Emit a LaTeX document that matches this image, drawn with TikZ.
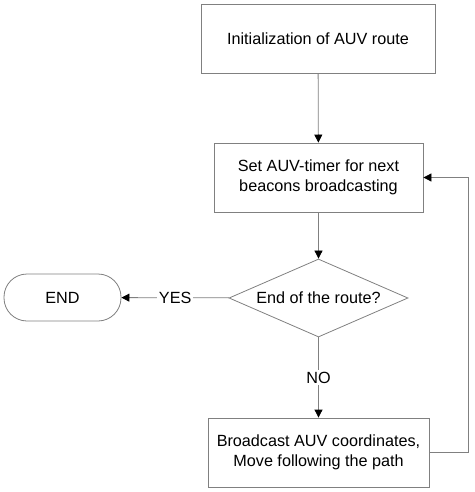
\documentclass[tikz,border=0pt]{standalone}
\usepackage{fontspec}
\setmainfont{Liberation Sans}
\usetikzlibrary{arrows.meta,shapes.geometric}

\begin{document}
\begin{tikzpicture}[x=1pt, y=-1pt,
    every node/.style={font=\fontsize{16.2}{20}\selectfont, text=black},
    block/.style={draw=gray, line width=0.8pt, rectangle, align=center, minimum height=69pt},
    decision/.style={draw=gray, line width=0.8pt, diamond, aspect=2.3, inner sep=0pt,
        minimum width=179pt, minimum height=78pt},
    terminal/.style={draw=gray, line width=0.8pt, rectangle, rounded corners=23pt,
        minimum width=117pt, minimum height=47pt},
    flow/.style={draw=gray, line width=0.8pt, -{Triangle[width=8pt,length=8pt,color=black]}},
    answer/.style={fill=white, inner sep=1.5pt}]
    \useasboundingbox (0,0) rectangle (474,492);

    \node[block, minimum width=234pt] (init) at (318,38.5) {Initialization of AUV route};
    \node[block, minimum width=209pt] (timer) at (318.5,177.5) {Set AUV-timer for next\\beacons broadcasting};
    \node[decision] (route) at (318.5,298) {End of the route?};
    \node[terminal] (end) at (62.5,297.5) {END};
    \node[block, minimum width=221pt] (bcast) at (318.5,452.5) {Broadcast AUV coordinates,\\Move following the path};

    \draw[flow] (init) -- (timer);
    \draw[flow] (timer) -- (route);
    \draw[flow] (route) -- node[answer] {YES} (end);
    \draw[flow] (route) -- node[answer] {NO} (bcast);
    \draw[flow] (bcast.east) -- ++(39,0) |- (timer.east);
\end{tikzpicture}
\end{document}
